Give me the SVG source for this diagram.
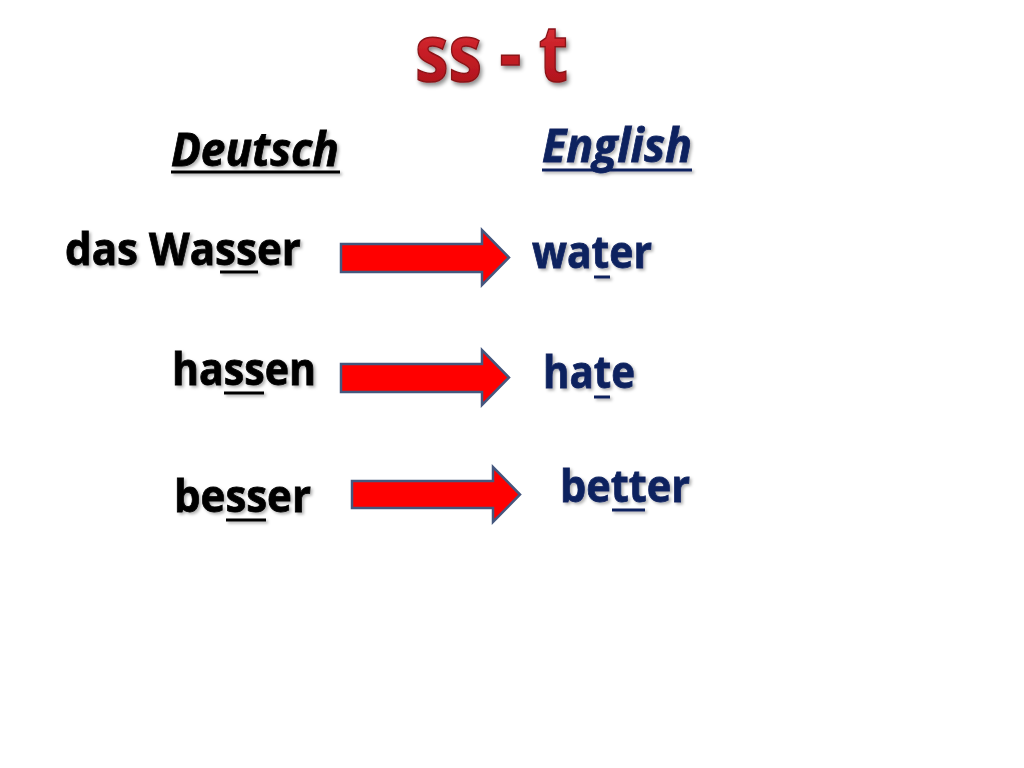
<svg xmlns="http://www.w3.org/2000/svg" width="1024" height="768" viewBox="0 0 1024 768">
<defs>
<style>
.t{font-family:"Open Sans","Liberation Sans",sans-serif;font-weight:bold;stroke-width:0.8}
.de{fill:#000;stroke:#000}
.en{fill:#10225f;stroke:#10225f}
.ul{stroke-width:3}
.arrow{fill:#ff0000;stroke:#44577e;stroke-width:2.5;stroke-linejoin:miter}
</style>
<filter id="sh" x="-10%" y="-20%" width="130%" height="150%">
<feDropShadow dx="2" dy="2" stdDeviation="1.5" flood-color="#000" flood-opacity="0.3"/>
</filter>
<filter id="tsh" x="-10%" y="-20%" width="130%" height="150%">
<feDropShadow dx="2" dy="3" stdDeviation="2" flood-color="#000" flood-opacity="0.45"/>
</filter>
<linearGradient id="red" x1="0" y1="0" x2="0" y2="1">
<stop offset="0" stop-color="#e8434a"/>
<stop offset="0.5" stop-color="#c81e26"/>
<stop offset="1" stop-color="#a01018"/>
</linearGradient>
</defs>
<rect width="1024" height="768" fill="#fff"/>
<g id="title" filter="url(#tsh)">
<text x="415" y="81" font-family="'Open Sans','Liberation Sans',sans-serif" font-weight="bold" font-size="78" fill="url(#red)" stroke="#8a1218" stroke-width="1.5" textLength="153" lengthAdjust="spacingAndGlyphs">ss - t</text>
</g>
<g id="head-de" filter="url(#sh)">
<text class="t de" x="171" y="166" font-size="47" font-style="italic" textLength="168" lengthAdjust="spacingAndGlyphs">Deutsch</text>
<line class="ul" x1="171" y1="172" x2="340" y2="172" stroke="#000"/>
</g>
<g id="head-en" filter="url(#sh)">
<text class="t en" x="542" y="162" font-size="47" font-style="italic" textLength="150" lengthAdjust="spacingAndGlyphs">English</text>
<line class="ul" x1="542" y1="170" x2="692" y2="170" stroke="#10225f"/>
</g>
<g id="de1" filter="url(#sh)">
<text class="t de" x="65" y="265" font-size="45" textLength="236" lengthAdjust="spacingAndGlyphs">das Wasser</text>
<line class="ul" x1="220" y1="272" x2="258" y2="272" stroke="#000"/>
</g>
<g id="de2" filter="url(#sh)">
<text class="t de" x="172" y="385" font-size="45" textLength="144" lengthAdjust="spacingAndGlyphs">hassen</text>
<line class="ul" x1="224" y1="393" x2="264" y2="393" stroke="#000"/>
</g>
<g id="de3" filter="url(#sh)">
<text class="t de" x="174" y="512" font-size="45" textLength="137" lengthAdjust="spacingAndGlyphs">besser</text>
<line class="ul" x1="226" y1="520" x2="266" y2="520" stroke="#000"/>
</g>
<g id="en1" filter="url(#sh)">
<text class="t en" x="532" y="268" font-size="45" textLength="120" lengthAdjust="spacingAndGlyphs">water</text>
<line class="ul" x1="594" y1="277" x2="610" y2="277" stroke="#10225f"/>
</g>
<g id="en2" filter="url(#sh)">
<text class="t en" x="543" y="388" font-size="45" textLength="92" lengthAdjust="spacingAndGlyphs">hate</text>
<line class="ul" x1="594" y1="397" x2="610" y2="397" stroke="#10225f"/>
</g>
<g id="en3" filter="url(#sh)">
<text class="t en" x="560" y="502" font-size="45" textLength="130" lengthAdjust="spacingAndGlyphs">better</text>
<line class="ul" x1="612" y1="510" x2="645" y2="510" stroke="#10225f"/>
</g>
<g id="connectors">
<polygon class="arrow" points="341,244 482,244 482,230 509,257.5 482,285 482,272 341,272"/>
<polygon class="arrow" points="341,364 482,364 482,350 509,377.5 482,405 482,392 341,392"/>
<polygon class="arrow" points="352,481 493,481 493,467 520,494.5 493,522 493,508 352,508"/>
</g>
</svg>
